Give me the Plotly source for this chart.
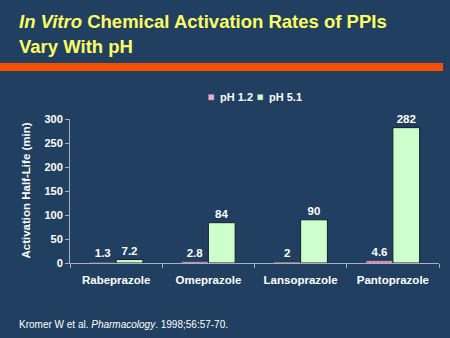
import plotly.graph_objects as go

categories = ["Rabeprazole", "Omeprazole", "Lansoprazole", "Pantoprazole"]
ph12_values = [1.3, 2.8, 2, 4.6]
ph51_values = [7.2, 84, 90, 282]
ph12_labels = ["1.3", "2.8", "2", "4.6"]
ph51_labels = ["7.2", "84", "90", "282"]
series_names = ["pH 1.2", "pH 5.1"]
y_ticks = [0, 50, 100, 150, 200, 250, 300]

BG = "#213f60"
FONT = "Liberation Sans, Arial, sans-serif"
PINK = "#f4aacd"
GREEN = "#ccffcc"
W, H = 450, 338
L, R, T, B = 70, 11, 119, 75
PW, PH = W - L - R, H - T - B


def px(x):
    return (x - L) / PW


def py(y):
    return (H - B - y) / PH


fig = go.Figure()
fig.add_trace(go.Bar(
    x=categories, y=ph12_values, name=series_names[0],
    text=ph12_labels, textposition="outside",
    marker=dict(color=PINK, line=dict(color="#2a2a40", width=0.5),
                pattern=dict(shape=".", fgcolor="#e04080", bgcolor="#f7c4dc", size=4, solidity=0.4)),
    textfont=dict(color="white", size=11.5, family=FONT, weight="bold"),
    cliponaxis=False,
))
fig.add_trace(go.Bar(
    x=categories, y=ph51_values, name=series_names[1],
    text=ph51_labels, textposition="outside",
    marker=dict(color=GREEN, line=dict(color="#1a1a2a", width=1)),
    textfont=dict(color="white", size=11.5, family=FONT, weight="bold"),
    cliponaxis=False,
))

fig.update_layout(
    width=W, height=H,
    margin=dict(l=L, r=R, t=T, b=B),
    paper_bgcolor=BG, plot_bgcolor=BG,
    barmode="group", bargap=0.42, bargroupgap=0,
    showlegend=False,
    xaxis=dict(showline=True, linecolor="#a8b0c0", linewidth=1, ticks="outside",
               tickson="boundaries", ticklen=4, tickcolor="#a8b0c0", ticklabelstandoff=6,
               tickfont=dict(color="white", size=11.5, family=FONT, weight="bold"),
               showgrid=False, zeroline=False),
    yaxis=dict(range=[0, 300], tickvals=y_ticks, showline=True, linecolor="#a8b0c0",
               linewidth=1, ticks="outside", ticklen=4, tickcolor="#a8b0c0",
               tickfont=dict(color="white", size=11, family=FONT, weight="bold"),
               showgrid=False, zeroline=False),
)

# legend (manual, compact like the original)
legend_items = [(series_names[0], PINK, 208.5), (series_names[1], GREEN, 257.5)]
for name, col, x0 in legend_items:
    fig.add_shape(type="rect", xref="paper", yref="paper",
                  x0=px(x0), x1=px(x0 + 5.5), y0=py(100), y1=py(94.5),
                  fillcolor=col, line=dict(color="#8090a0", width=0.5))
    fig.add_annotation(x=px(x0 + 9.5), y=py(97), xref="paper", yref="paper",
                       xanchor="left", yanchor="middle", text=name, showarrow=False,
                       font=dict(color="white", size=11, family=FONT, weight="bold"))

fig.add_annotation(x=px(25.5), y=py(191), xref="paper", yref="paper", textangle=-90,
                   xanchor="center", yanchor="middle",
                   text="Activation Half-Life (min)", showarrow=False,
                   font=dict(color="white", size=11.5, family=FONT, weight="bold"))

fig.add_annotation(x=px(17), y=py(21.5), xref="paper", yref="paper", xanchor="left", yanchor="middle",
                   text="<i>In Vitro</i> Chemical Activation Rates of PPIs", showarrow=False,
                   font=dict(color="#ffff66", size=18.5, family=FONT, weight="bold"))
fig.add_annotation(x=px(17), y=py(46), xref="paper", yref="paper", xanchor="left", yanchor="middle",
                   text="Vary With pH", showarrow=False,
                   font=dict(color="#ffff66", size=18.5, family=FONT, weight="bold"))

fig.add_shape(type="rect", xref="paper", yref="paper", x0=px(0), x1=px(443), y0=py(71), y1=py(63),
              fillcolor="#f55000", line=dict(width=0))

fig.add_annotation(x=px(17), y=py(324), xref="paper", yref="paper", xanchor="left", yanchor="middle",
                   text="Kromer W et al. <i>Pharmacology</i>. 1998;56:57-70.", showarrow=False,
                   font=dict(color="white", size=10, family=FONT))

fig.write_html("out.html")
